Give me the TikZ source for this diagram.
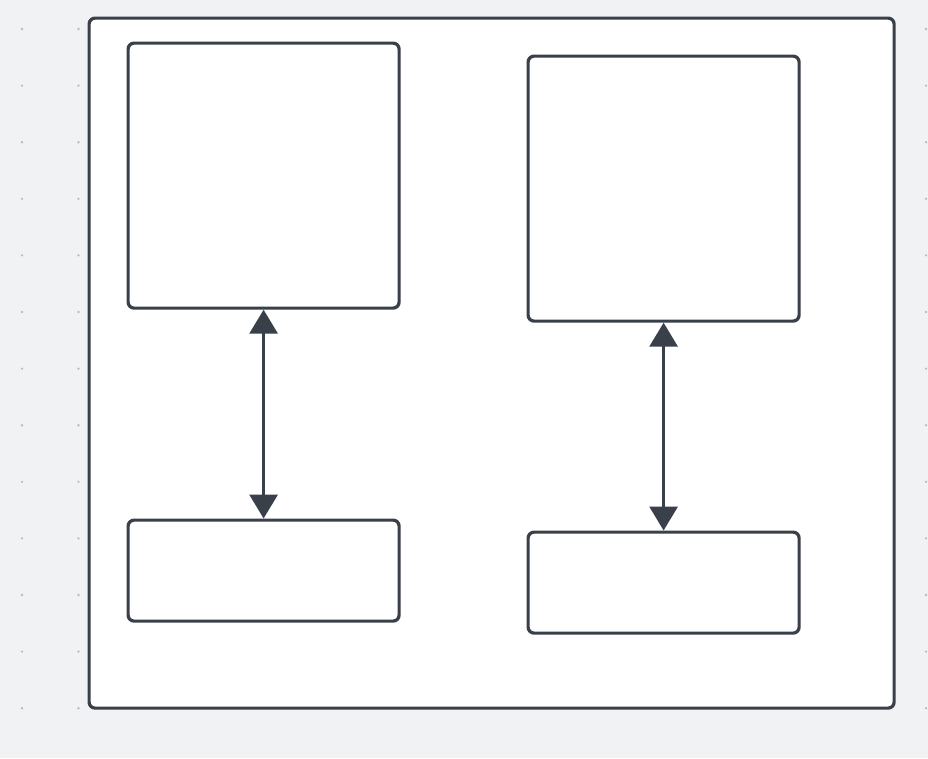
\documentclass[tikz,border=0pt]{standalone}
\usetikzlibrary{arrows.meta}
\definecolor{bg}{HTML}{F1F2F4}
\definecolor{ink}{HTML}{394049}
\definecolor{dotc}{HTML}{B8BCC2}
\begin{document}
\begin{tikzpicture}[x=1pt,y=-1pt,
  box/.style={draw=ink,line width=3.2pt,rounded corners=6pt,fill=white},
  link/.style={draw=ink,line width=3.2pt,{Triangle[width=28pt,length=24pt]}-{Triangle[width=28pt,length=24pt]}}]
\fill[bg] (0,0) rectangle (928,758);
\useasboundingbox (0,0) rectangle (928,758);
\foreach \i in {0,...,16}{\foreach \j in {0,...,12}{
  \fill[dotc] (22+56.5*\i,29+56.6*\j) circle (1.3pt);}}
\node[box,minimum width=805pt,minimum height=690pt,anchor=north west] (outer) at (87.5,16.5) {};
\node[box,minimum width=271pt,minimum height=265pt,anchor=north west] (a) at (126.5,41.5) {};
\node[box,minimum width=271pt,minimum height=265pt,anchor=north west] (b) at (526.5,54.5) {};
\node[box,minimum width=271pt,minimum height=101pt,anchor=north west] (c) at (126.5,518.5) {};
\node[box,minimum width=271pt,minimum height=101pt,anchor=north west] (d) at (526.5,530.5) {};
\draw[link] (a.south) -- (c.north);
\draw[link] (b.south) -- (d.north);
\end{tikzpicture}
\end{document}
